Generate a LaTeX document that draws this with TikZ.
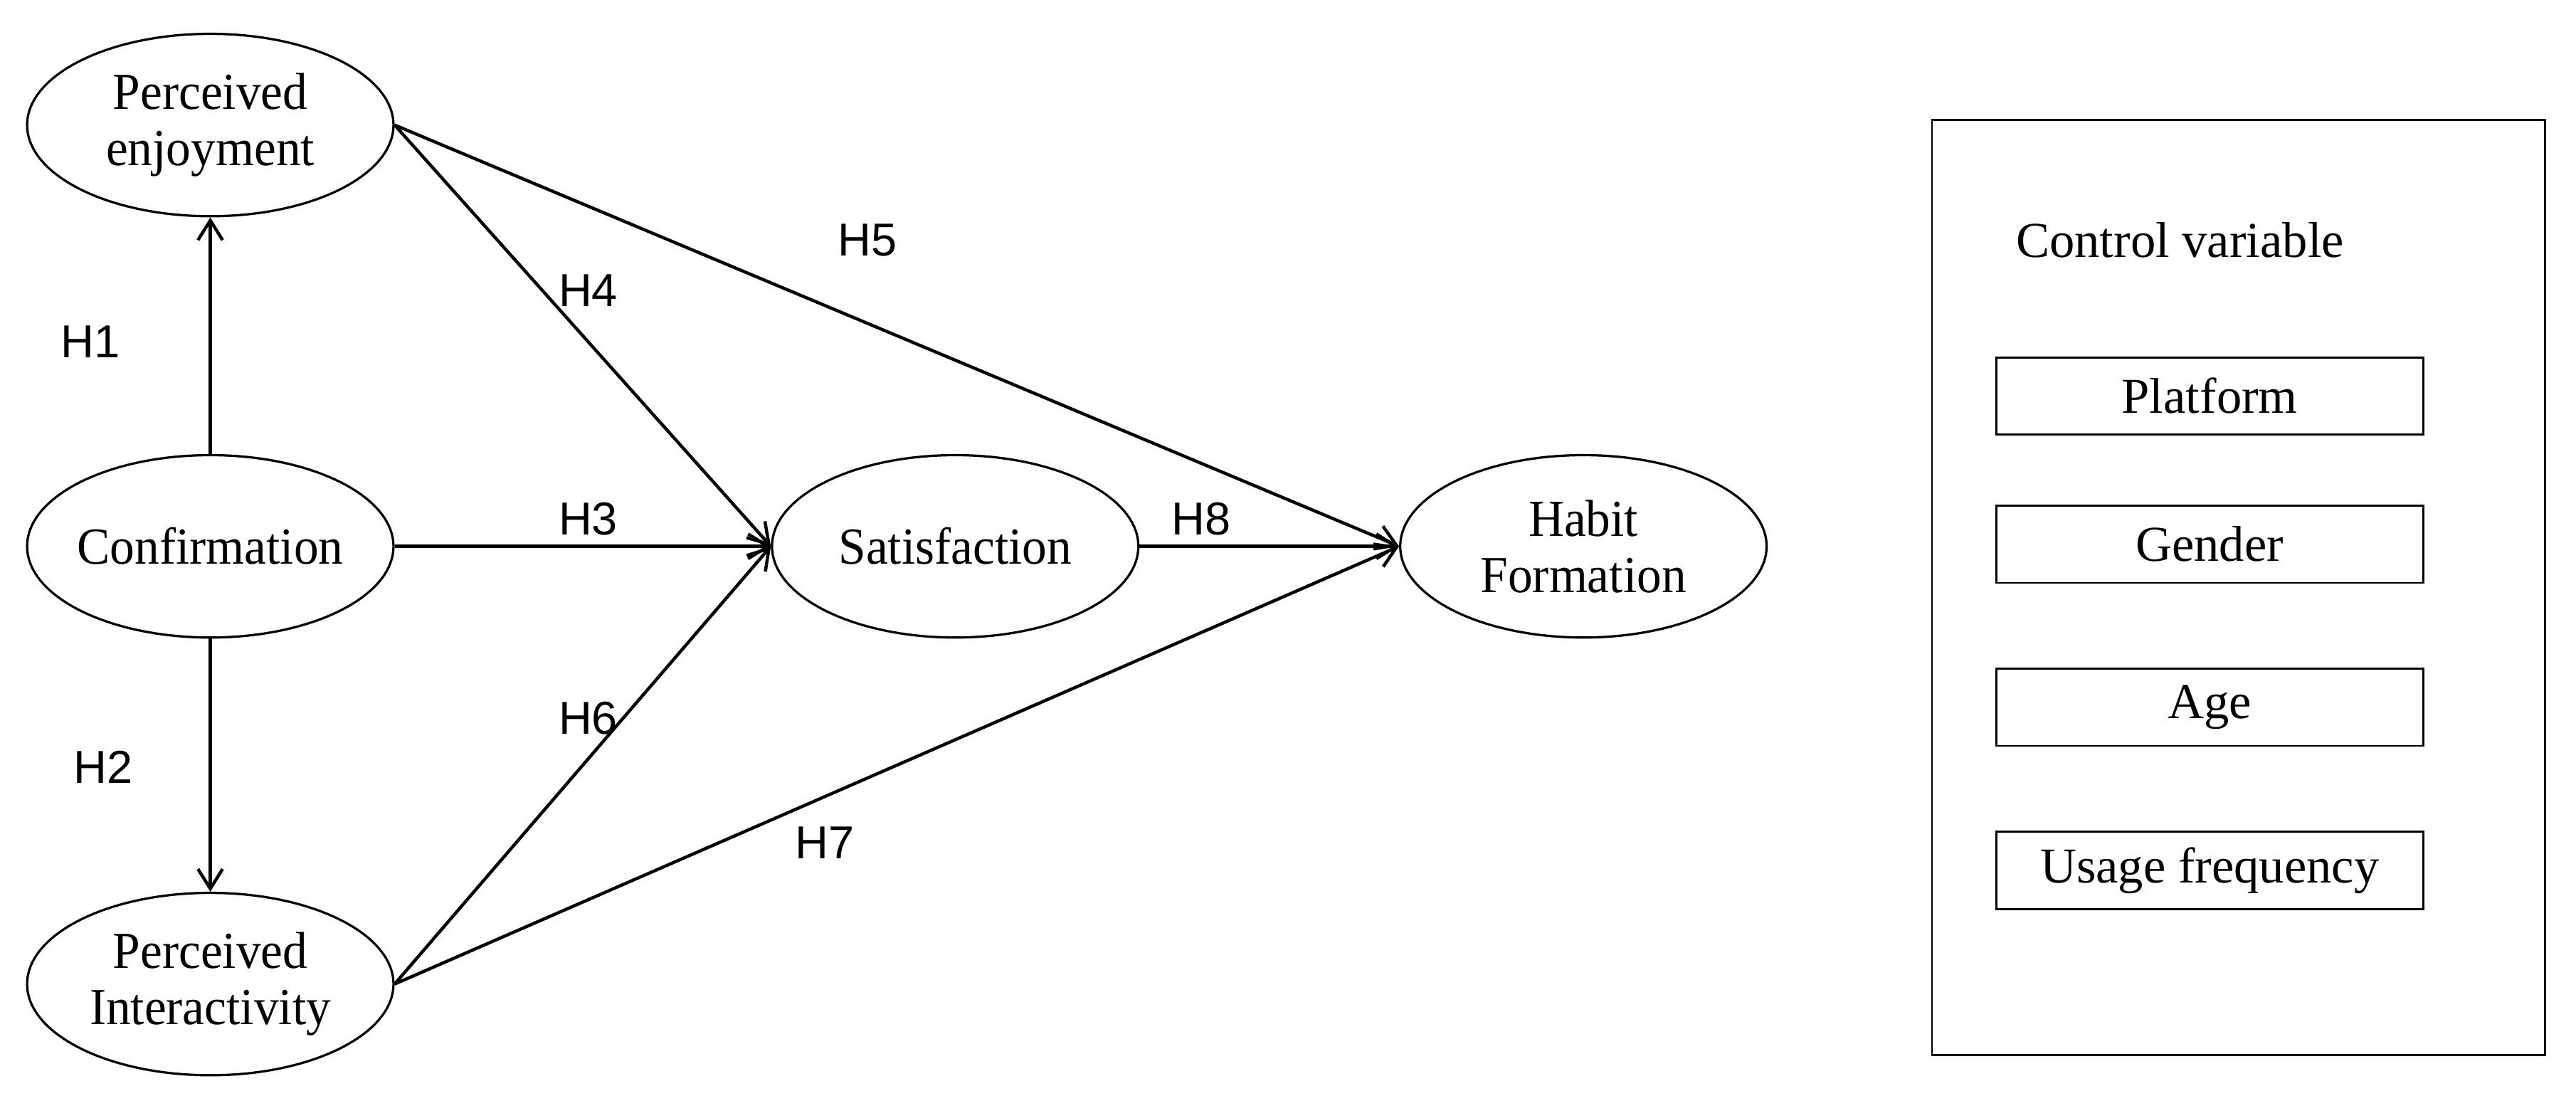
\documentclass[tikz,border=0pt]{standalone}
\usepackage{fontspec}
\setmainfont{Liberation Serif}
\newfontfamily\hfont{Liberation Sans}
\newfontfamily\cfont[FakeStretch=0.95]{Liberation Serif}
\usetikzlibrary{arrows.meta,positioning,shapes.geometric}

\begin{document}
\begin{tikzpicture}[>={Straight Barb[length=2.4mm,width=3mm]},
    construct/.style={ellipse,draw,line width=0.8pt,minimum width=4.46cm,minimum height=2.22cm,
        align=center,inner xsep=-0.1cm,inner ysep=0pt,font=\cfont\fontsize{18}{19.5}\selectfont},
    hyp/.style={font=\hfont\fontsize{16}{18}\selectfont},
    ctrl/.style={draw,line width=0.7pt,minimum width=5.2cm,minimum height=0.94cm,inner sep=0pt,
        font=\fontsize{17.4}{20}\selectfont},
    path/.style={->,line width=1.1pt}]
    \useasboundingbox (0,0) rectangle (31.36,-13.4);

    % constructs
    \node[construct] (conf) at (2.56,-6.65) {Confirmation};
    \node[construct] (pe) [above=2.88cm of conf] {Perceived\\enjoyment};
    \node[construct] (pi) [below=3.08cm of conf] {Perceived\\Interactivity};
    \node[construct] (sat) [right=4.58cm of conf] {Satisfaction};
    \node[construct] (hf) [right=3.16cm of sat] {Habit\\Formation};

    % hypotheses
    \draw[path] (conf) -- (pe);
    \draw[path] (conf) -- (pi);
    \draw[path] (conf) -- (sat);
    \draw[path] (pe.east) -- (sat.west);
    \draw[path] (pe.east) -- (hf.west);
    \draw[path] (pi.east) -- (sat.west);
    \draw[path] (pi.east) -- (hf.west);
    \draw[path] (sat) -- (hf);

    \node[hyp] (h1) at (1.10,-4.16) {H1};
    \node[hyp] (h2) at (1.26,-9.34) {H2};
    \node[hyp] (h3) at (7.16,-6.32) {H3};
    \node[hyp] (h4) at (7.16,-3.54) {H4};
    \node[hyp] (h5) at (10.56,-2.92) {H5};
    \node[hyp] (h6) at (7.16,-8.74) {H6};
    \node[hyp] (h7) at (10.04,-10.26) {H7};
    \node[hyp] (h8) at (14.62,-6.32) {H8};

    % control variables
    \draw[line width=0.7pt] (23.52,-1.46) rectangle (30.98,-12.84);
    \node[font=\fontsize{17.4}{20}\selectfont] (cv) at (26.54,-2.92) {Control variable};
    \node[ctrl] (platform) at (26.9,-4.82) {Platform};
    \node[ctrl] (gender) [below=0.84cm of platform] {Gender};
    \node[ctrl] (age) [below=1.02cm of gender] {Age};
    \node[ctrl] (usage) [below=1.02cm of age] {Usage frequency};
\end{tikzpicture}
\end{document}
